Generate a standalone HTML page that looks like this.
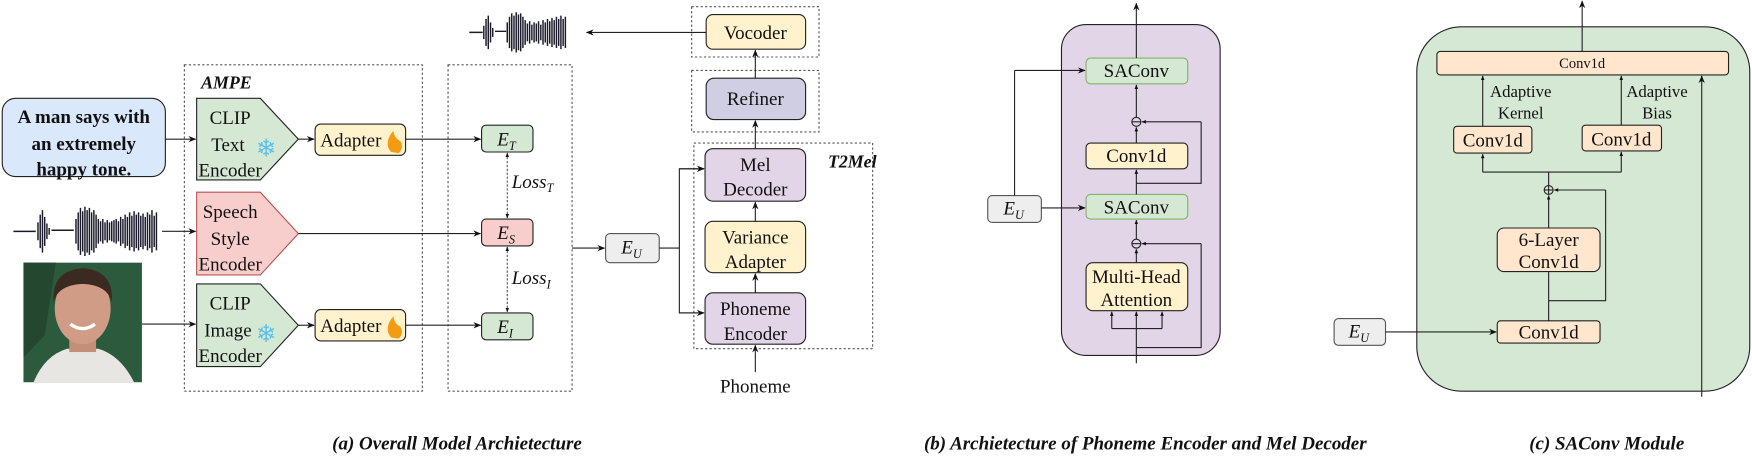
<!DOCTYPE html>
<html><head><meta charset="utf-8"><style>
html,body{margin:0;padding:0;background:#fff;}
svg{display:block;}
svg text{font-family:'Liberation Serif','Times New Roman',serif !important;fill:#111;}
</style></head><body>
<svg width="1752" height="456" viewBox="0 0 1568 408" preserveAspectRatio="none" xmlns="http://www.w3.org/2000/svg" font-family="'Liberation Serif', serif">
<defs>
<marker id="ah" viewBox="0 0 10 10" refX="9" refY="5" markerWidth="7" markerHeight="7" orient="auto-start-reverse"><path d="M0,1 L10,5 L0,9 L3,5 z" fill="#111"/></marker>
<marker id="as" viewBox="0 0 10 10" refX="9" refY="5" markerWidth="4" markerHeight="4" orient="auto-start-reverse"><path d="M0,1 L10,5 L0,9 z" fill="#111"/></marker>
</defs>
<g stroke="#222" stroke-width="1" fill="none">
<rect x="165" y="58" width="213" height="292" stroke-dasharray="2,2" stroke="#555"/>
<rect x="401" y="58" width="111" height="292" stroke-dasharray="2,2" stroke="#555"/>
<rect x="621" y="128" width="160" height="184" stroke-dasharray="2,2" stroke="#555"/>
<rect x="619" y="63" width="114" height="55" stroke-dasharray="2,2" stroke="#555"/>
<rect x="619" y="6" width="114" height="45" stroke-dasharray="2,2" stroke="#555"/>

<rect x="2" y="88" width="146" height="70" rx="12" fill="#dae8fc"/>
<path d="M176,88 H233 L267,124.5 L233,161 H176 Z" fill="#d5e8d4"/>
<path d="M176,172 H233 L267,209 L233,246 H176 Z" fill="#f8cecc" stroke="#b85450"/>
<path d="M176,254 H233 L267,291 L233,328 H176 Z" fill="#d5e8d4"/>
<rect x="282" y="111" width="81" height="28" rx="5" fill="#fff2cc"/>
<rect x="282" y="277" width="81" height="28" rx="5" fill="#fff2cc"/>
<rect x="431" y="112" width="46" height="24" rx="4" fill="#d5e8d4"/>
<rect x="431" y="196" width="46" height="24" rx="4" fill="#f8cecc"/>
<rect x="431" y="280" width="46" height="24" rx="4" fill="#d5e8d4"/>
<rect x="542" y="209" width="48" height="26" rx="4" fill="#eeeeee" stroke="#555"/>
<rect x="631" y="133" width="90" height="47" rx="7" fill="#e1d5e7"/>
<rect x="631" y="198" width="90" height="46" rx="7" fill="#fff2cc"/>
<rect x="631" y="262" width="90" height="46" rx="7" fill="#e1d5e7"/>
<rect x="632" y="70" width="89" height="37" rx="7" fill="#d0cee2"/>
<rect x="632" y="13" width="89" height="31" rx="6" fill="#fff2cc"/>

<line x1="148" y1="124.5" x2="175" y2="124.5" marker-end="url(#ah)"/>
<line x1="145" y1="207" x2="175" y2="207" marker-end="url(#ah)"/>
<line x1="127" y1="290" x2="175" y2="290" marker-end="url(#ah)"/>
<line x1="267" y1="124.5" x2="281" y2="124.5" marker-end="url(#ah)"/>
<line x1="267" y1="291" x2="281" y2="291" marker-end="url(#ah)"/>
<line x1="363" y1="124.5" x2="430" y2="124.5" marker-end="url(#ah)"/>
<line x1="267" y1="209" x2="430" y2="209" marker-end="url(#ah)"/>
<line x1="363" y1="291" x2="430" y2="291" marker-end="url(#ah)"/>
<line x1="454" y1="137" x2="454" y2="195" stroke-dasharray="2,1.5" stroke="#555" marker-start="url(#as)" marker-end="url(#as)"/>
<line x1="454" y1="221" x2="454" y2="279" stroke-dasharray="2,1.5" stroke="#555" marker-start="url(#as)" marker-end="url(#as)"/>
<line x1="512" y1="222" x2="541" y2="222" marker-end="url(#ah)"/>
<path d="M590,222 H608"/>
<path d="M630,151 H608 V280 H630" />
<line x1="608" y1="151" x2="630" y2="151" marker-end="url(#ah)"/>
<line x1="608" y1="280" x2="630" y2="280" marker-end="url(#ah)"/>
<line x1="676" y1="333" x2="676" y2="309" marker-end="url(#ah)"/>
<line x1="676" y1="262" x2="676" y2="245" marker-end="url(#ah)"/>
<line x1="676" y1="198" x2="676" y2="181" marker-end="url(#ah)"/>
<line x1="676" y1="133" x2="676" y2="108" marker-end="url(#ah)"/>
<line x1="676" y1="70" x2="676" y2="45" marker-end="url(#ah)"/>
<line x1="632" y1="29" x2="525" y2="29" marker-end="url(#ah)"/>

<rect x="950" y="22" width="142" height="296" rx="22" fill="#e1d5e7"/>
<rect x="972" y="52" width="91" height="23" rx="4" fill="#d5e8d4" stroke="#82b366"/>
<rect x="972" y="128" width="91" height="23" rx="4" fill="#fff2cc"/>
<rect x="972" y="174" width="91" height="22" rx="4" fill="#d5e8d4" stroke="#82b366"/>
<rect x="972" y="235" width="91" height="43" rx="6" fill="#fff2cc"/>
<rect x="884" y="175" width="48" height="24" rx="4" fill="#eeeeee" stroke="#555"/>
<line x1="1017" y1="52" x2="1017" y2="3" marker-end="url(#ah)"/>
<line x1="1017" y1="105" x2="1017" y2="76" marker-end="url(#as)"/>
<circle cx="1017" cy="109" r="4" fill="none"/>
<line x1="1013" y1="109" x2="1021" y2="109"/>
<line x1="1017" y1="128" x2="1017" y2="114" marker-end="url(#as)"/>
<line x1="1017" y1="174" x2="1017" y2="152" marker-end="url(#as)"/>
<path d="M1017,164 H1075 V109"/><line x1="1075" y1="109" x2="1022" y2="109" marker-end="url(#as)"/>
<line x1="1017" y1="214" x2="1017" y2="197" marker-end="url(#as)"/>
<circle cx="1017" cy="218" r="4" fill="none"/>
<line x1="1013" y1="218" x2="1021" y2="218"/>
<line x1="1017" y1="235" x2="1017" y2="223" marker-end="url(#as)"/>
<line x1="1017" y1="325" x2="1017" y2="279" marker-end="url(#as)"/>
<path d="M1017,311 H1075 V218"/><line x1="1075" y1="218" x2="1022" y2="218" marker-end="url(#as)"/>
<path d="M995,294 H1040"/>
<line x1="995" y1="294" x2="995" y2="279" marker-end="url(#as)"/>
<line x1="1040" y1="294" x2="1040" y2="279" marker-end="url(#as)"/>
<path d="M908,175 V63"/><line x1="908" y1="63" x2="971" y2="63" marker-end="url(#ah)"/>
<line x1="932" y1="186" x2="971" y2="186" marker-end="url(#ah)"/>

<rect x="1268" y="24" width="298" height="326" rx="40" fill="#d5e8d4"/>
<rect x="1286" y="46" width="261" height="21" rx="3" fill="#ffe6cc"/>
<rect x="1301" y="113" width="70" height="24" rx="3" fill="#ffe6cc"/>
<rect x="1416" y="112" width="71" height="23" rx="3" fill="#ffe6cc"/>
<rect x="1340" y="204" width="92" height="39" rx="6" fill="#ffe6cc"/>
<rect x="1340" y="287" width="92" height="20" rx="3" fill="#ffe6cc"/>
<rect x="1194" y="285" width="46" height="24" rx="4" fill="#eeeeee" stroke="#555"/>
<line x1="1416" y1="46" x2="1416" y2="1" marker-end="url(#ah)"/>
<line x1="1327" y1="113" x2="1327" y2="68" marker-end="url(#as)"/>
<line x1="1451" y1="112" x2="1451" y2="68" marker-end="url(#as)"/>
<path d="M1327,154 H1451"/>
<line x1="1327" y1="154" x2="1327" y2="138" marker-end="url(#as)"/>
<line x1="1451" y1="154" x2="1451" y2="136" marker-end="url(#as)"/>
<line x1="1386" y1="154" x2="1386" y2="174"/>
<circle cx="1386" cy="170" r="4" fill="none"/>
<line x1="1382" y1="170" x2="1390" y2="170"/>
<line x1="1386" y1="204" x2="1386" y2="175" marker-end="url(#as)"/>
<line x1="1386" y1="243" x2="1386" y2="287"/>
<path d="M1386,269 H1437 V170"/><line x1="1437" y1="170" x2="1391" y2="170" marker-end="url(#as)"/>
<line x1="1240" y1="297" x2="1339" y2="297" marker-end="url(#ah)"/>
<line x1="1523" y1="355" x2="1523" y2="68" marker-end="url(#ah)"/>
</g>

<g stroke="#1a1a2a" stroke-width="1.3" fill="none">
<path d="M12,207 h20 M34,199 v16 M36,192 v30 M38,188 v38 M40,194 v26 M42,200 v14 M44,204 v6 M46,206 h20 M68,196 v22 M70,190 v34 M72,186 v42 M74,189 v36 M76,185 v44 M78,188 v38 M80,186 v42 M82,190 v34 M84,188 v38 M86,192 v30 M88,196 v22 M90,198 v18 M92,196 v22 M94,199 v16 M96,197 v20 M98,199 v16 M100,198 v18 M102,197 v20 M104,196 v22 M106,198 v18 M108,194 v26 M110,196 v22 M112,192 v30 M114,194 v26 M116,190 v34 M118,193 v28 M120,189 v36 M122,192 v30 M124,190 v34 M126,193 v28 M128,191 v32 M130,194 v26 M132,190 v34 M134,192 v30 M136,188 v38 M138,193 v28 M140,190 v34"/>
<path d="M420,29 h12 M433,23 v12 M435,17 v24 M437,14 v30 M439,20 v18 M441,25 v8 M443,28 h10 M454,20 v18 M456,15 v28 M458,12 v34 M460,14 v30 M462,11 v36 M464,13 v32 M466,12 v34 M468,15 v28 M470,18 v22 M472,21 v16 M474,19 v20 M476,22 v14 M478,20 v18 M480,21 v16 M482,19 v20 M484,22 v14 M486,18 v22 M488,20 v18 M490,17 v24 M492,19 v20 M494,16 v26 M496,18 v22 M498,15 v28 M500,17 v24 M502,14 v30 M504,17 v24 M506,15 v28"/>
</g>

<rect x="21" y="235" width="106" height="107" fill="#2b5a3c"/>
<path d="M21,235 L50,235 L40,300 L21,320 Z" fill="#23482f"/>
<path d="M30,342 Q40,318 60,312 L88,312 Q108,318 120,342 Z" fill="#e8e6e3"/>
<rect x="62" y="295" width="24" height="20" fill="#c48f78"/>
<ellipse cx="74" cy="276" rx="25" ry="32" fill="#d19c85"/>
<path d="M48,270 Q46,242 74,240 Q102,242 100,270 Q96,255 74,254 Q52,255 48,270 Z" fill="#3a2a22"/>
<path d="M63,290 Q74,298 85,290" stroke="#fff" stroke-width="3" fill="none"/>

<text x="229" y="140" font-size="22" style="fill:#5bc0eb">❄</text>
<text x="229" y="306" font-size="22" style="fill:#5bc0eb">❄</text>
<path d="M350,136 Q343,128 352,117 Q353,124 358,126 Q362,131 357,137 Z" fill="#f39c12"/>
<path d="M350,302 Q343,294 352,283 Q353,290 358,292 Q362,297 357,303 Z" fill="#f39c12"/>

<g font-size="17" font-weight="bold" text-anchor="middle">
<text x="75" y="110">A man says with</text>
<text x="75" y="134">an extremely</text>
<text x="75" y="157">happy tone.</text>
</g>
<g font-size="17" text-anchor="middle">
<text x="206" y="111">CLIP</text><text x="204" y="135">Text</text><text x="206" y="158">Encoder</text>
<text x="206" y="195">Speech</text><text x="206" y="219">Style</text><text x="206" y="242">Encoder</text>
<text x="206" y="277">CLIP</text><text x="204" y="301">Image</text><text x="206" y="324">Encoder</text>
<text x="314" y="131">Adapter</text><text x="314" y="297">Adapter</text>
<text x="676" y="153">Mel</text><text x="676" y="175">Decoder</text>
<text x="676" y="218">Variance</text><text x="676" y="240">Adapter</text>
<text x="676" y="282">Phoneme</text><text x="676" y="304">Encoder</text>
<text x="676" y="94">Refiner</text>
<text x="676" y="35">Vocoder</text>
<text x="676" y="351">Phoneme</text>
<text x="1017" y="69">SAConv</text>
<text x="1017" y="145">Conv1d</text>
<text x="1017" y="191">SAConv</text>
<text x="1017" y="253">Multi-Head</text><text x="1017" y="274">Attention</text>
<text x="1336" y="131">Conv1d</text>
<text x="1451" y="130">Conv1d</text>
<text x="1386" y="220">6-Layer</text><text x="1386" y="240">Conv1d</text>
<text x="1386" y="303">Conv1d</text>
</g>
<g font-size="15" text-anchor="middle">
<text x="1416" y="61" font-size="13">Conv1d</text>
<text x="1361" y="87">Adaptive</text><text x="1361" y="106">Kernel</text>
<text x="1483" y="87">Adaptive</text><text x="1483" y="106">Bias</text>
</g>
<g font-size="17" font-style="italic">
<text x="445" y="130">E<tspan font-size="11" dy="4">T</tspan></text>
<text x="445" y="214">E<tspan font-size="11" dy="4">S</tspan></text>
<text x="445" y="298">E<tspan font-size="11" dy="4">I</tspan></text>
<text x="556" y="227">E<tspan font-size="11" dy="4">U</tspan></text>
<text x="898" y="192">E<tspan font-size="11" dy="4">U</tspan></text>
<text x="1207" y="302">E<tspan font-size="11" dy="4">U</tspan></text>
<text x="458" y="168">Loss<tspan font-size="11" dy="4">T</tspan></text>
<text x="458" y="254">Loss<tspan font-size="11" dy="4">I</tspan></text>
</g>
<g font-weight="bold" font-style="italic">
<text x="180" y="79" font-size="16">AMPE</text>
<text x="741" y="150" font-size="16">T2Mel</text>
<g font-size="17" text-anchor="middle">
<text x="409" y="402">(a) Overall Model Archietecture</text>
<text x="1025" y="402">(b) Archietecture of Phoneme Encoder  and Mel Decoder</text>
<text x="1438" y="402">(c) SAConv Module</text>
</g>
</g>
</svg>
</body></html>
